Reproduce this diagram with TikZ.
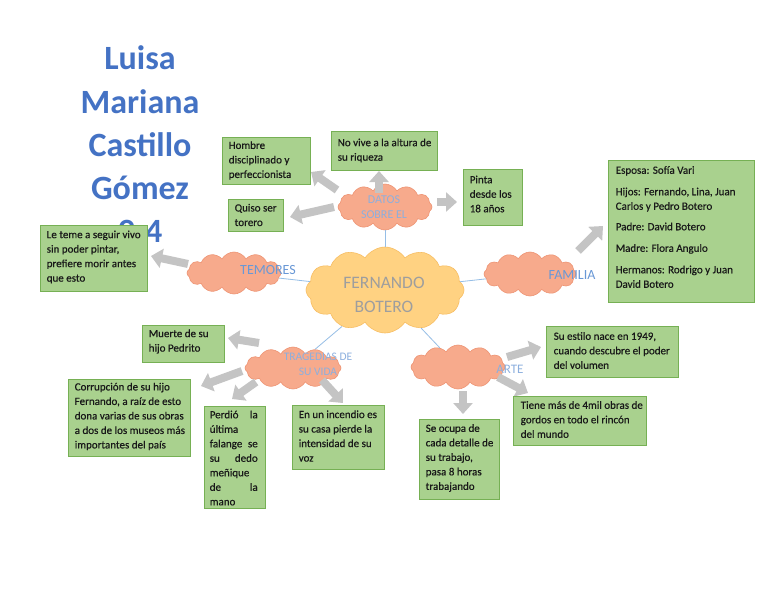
\documentclass[tikz,border=0pt]{standalone}
\usepackage{fontspec}
\setmainfont{Carlito}
\newfontfamily\boxfont{Carlito}[FakeBold=0.5]
\usetikzlibrary{shapes.symbols,arrows.meta,fit,calc}
\definecolor{titleblue}{RGB}{68,114,196}
\definecolor{gfill}{RGB}{169,209,142}
\definecolor{gdraw}{RGB}{118,176,84}
\definecolor{salmon}{RGB}{247,170,140}
\definecolor{salmonB}{RGB}{238,148,116}
\definecolor{gold}{RGB}{255,210,130}
\definecolor{goldB}{RGB}{247,190,100}
\definecolor{cloudtxt}{RGB}{105,152,214}
\definecolor{datostxt}{RGB}{140,175,222}
\definecolor{centertxt}{RGB}{158,158,158}
\definecolor{connc}{RGB}{150,190,230}
\definecolor{arrowgray}{RGB}{196,196,196}
\begin{document}
\begin{tikzpicture}[x=1pt,y=-1pt,
  titlesty/.style={font=\fontsize{34}{43}\selectfont\bfseries, text=titleblue, inner sep=0pt, anchor=base},
  gboxsty/.style={draw=gdraw, fill=gfill, line width=0.9pt, inner sep=0pt},
  txt/.style={font=\boxfont\fontsize{11}{14.5}\selectfont, text=black!90, align=left, inner sep=0pt, anchor=west},
  salcloud/.style={cloud, cloud puffs=12, cloud puff arc=120, fill=salmon, draw=salmonB, line width=0.6pt, inner sep=0pt},
  goldcloud/.style={cloud, cloud puffs=12, cloud puff arc=115, fill=gold, draw=goldB, line width=0.6pt, inner sep=0pt},
  ctxt/.style={text=cloudtxt, align=center, inner sep=0pt},
  connsty/.style={draw=connc, line width=0.8pt},
  barrow/.style={draw=arrowgray, line width=8pt, -{Triangle[length=11pt,width=19pt]}}
]
\useasboundingbox[fill=white] (0,0) rectangle (768,594);

% title
\node[titlesty] (t1) at (140,70) {Luisa};
\node[titlesty] (t2) at (140,113) {Mariana};
\node[titlesty] (t3) at (140,156) {Castillo};
\node[titlesty] (t4) at (140,199) {Gómez};
\node[titlesty] (t5) at (140,242) {9-4};

% clouds
\node[goldcloud, minimum width=158pt, minimum height=86pt] (center) at (385,290) {};
\node[salcloud, minimum width=94pt, minimum height=46pt] (datos) at (385,207) {};
\node[salcloud, minimum width=94pt, minimum height=42pt] (temores) at (234,273) {};
\node[salcloud, minimum width=92pt, minimum height=44pt] (familia) at (530,274) {};
\node[salcloud, minimum width=96pt, minimum height=42pt] (tragedias) at (293,368) {};
\node[salcloud, minimum width=94pt, minimum height=44pt] (arte) at (458,367) {};

% connectors
\draw[connsty] (datos) -- (center);
\draw[connsty] (temores) -- (center);
\draw[connsty] (familia) -- (center);
\draw[connsty] (tragedias) -- (center);
\draw[connsty] (arte) -- (center);

% cloud texts
\node[align=center, inner sep=0pt, text=centertxt, font=\fontsize{17.5}{24}\selectfont] (centerTxt) at (384,295) {FERNANDO\\BOTERO};
\node[ctxt, text=datostxt, font=\fontsize{12}{15}\selectfont] (datosTxt) at (384,207) {DATOS\\SOBRE EL};
\node[ctxt, font=\fontsize{14}{16}\selectfont] (temoresTxt) at (268,270) {TEMORES};
\node[ctxt, font=\fontsize{14}{16}\selectfont] (familiaTxt) at (572,275) {FAMILIA};
\node[ctxt, text=datostxt, font=\fontsize{11.5}{15}\selectfont] (tragediasTxt) at (318,364) {TRAGEDIAS DE\\SU VIDA};
\node[ctxt, text=datostxt, font=\fontsize{13}{15}\selectfont] (arteTxt) at (510,369) {ARTE};

% block arrows
\coordinate (a1s) at (337,190); \coordinate (a1e) at (311,172);
\coordinate (a2s) at (379,193); \coordinate (a2e) at (379,171);
\coordinate (a3s) at (334,207); \coordinate (a3e) at (290,217);
\coordinate (a4s) at (437,202); \coordinate (a4e) at (457,202);
\coordinate (a5s) at (188,264); \coordinate (a5e) at (151,256);
\coordinate (a6s) at (578,251); \coordinate (a6e) at (603,226);
\coordinate (a7s) at (259,343); \coordinate (a7e) at (228,338);
\coordinate (a8s) at (242,371); \coordinate (a8e) at (201,386);
\coordinate (a9s) at (256,382); \coordinate (a9e) at (232,399);
\coordinate (a10s) at (322,380); \coordinate (a10e) at (343,403);
\coordinate (a11s) at (507,357); \coordinate (a11e) at (541,347);
\coordinate (a12s) at (498,377); \coordinate (a12e) at (528,393);
\coordinate (a13s) at (463,391); \coordinate (a13e) at (463,414);
\foreach \i in {1,...,13} {\draw[barrow] (a\i s) -- (a\i e);}

% green boxes
\node[gboxsty, fit={(222,137) (310,184)}] (hombre) {};
\node[txt] (hombreTxt) at ($(hombre.west)+(7,0)$) {Hombre\\disciplinado y\\perfeccionista};

\node[gboxsty, fit={(331,131) (437,170)}] (novive) {};
\node[txt] (noviveTxt) at ($(novive.west)+(7,0)$) {No vive a la altura de\\su riqueza};

\node[gboxsty, fit={(228,199) (283,231)}] (quiso) {};
\node[txt] (quisoTxt) at ($(quiso.west)+(7,0)$) {Quiso ser\\torero};

\node[gboxsty, fit={(463,169) (522,225)}] (pinta) {};
\node[txt] (pintaTxt) at ($(pinta.west)+(7,-3)$) {Pinta\\desde los\\18 años};

\node[gboxsty, fit={(608,160) (754,302)}] (esposa) {};
\node[txt] (esposaTxt) at ($(esposa.west)+(8,-4)$) {Esposa: Sofía Vari\\[7pt]Hijos: Fernando, Lina, Juan\\Carlos y Pedro Botero\\[6pt]Padre: David Botero\\[7pt]Madre: Flora Angulo\\[7pt]Hermanos: Rodrigo y Juan\\David Botero};

\node[gboxsty, fit={(40,225) (147,291)}] (leteme) {};
\node[txt] (letemeTxt) at ($(leteme.west)+(7,-1)$) {Le teme a seguir vivo\\sin poder pintar,\\prefiere morir antes\\que esto};

\node[gboxsty, fit={(142,325) (224,362)}] (muerte) {};
\node[txt] (muerteTxt) at ($(muerte.west)+(7,-2)$) {Muerte de su\\hijo Pedrito};

\node[gboxsty, fit={(68,379) (190,456)}] (corrupcion) {};
\node[txt] (corrupcionTxt) at ($(corrupcion.west)+(7,-1)$) {Corrupción de su hijo\\Fernando, a raíz de esto\\dona varias de sus obras\\a dos de los museos más\\importantes del país};

\node[gboxsty, fit={(204,406) (265,508)}] (perdio) {};
\node[txt, text width=48pt] (perdioTxt) at ($(perdio.west)+(6,1)$) {Perdió\hfill la\\última\\falange\hfill se\\su\hfill dedo\\meñique\\de\hfill la\\mano};

\node[gboxsty, fit={(292,405) (384,469)}] (incendio) {};
\node[txt] (incendioTxt) at ($(incendio.west)+(7,-1)$) {En un incendio es\\su casa pierde la\\intensidad de su\\voz};

\node[gboxsty, fit={(546,326) (678,377)}] (estilo) {};
\node[txt] (estiloTxt) at ($(estilo.west)+(8,-1)$) {Su estilo nace en 1949,\\cuando descubre el poder\\del volumen};

\node[gboxsty, fit={(513,396) (646,445)}] (tiene) {};
\node[txt] (tieneTxt) at ($(tiene.west)+(8,-1)$) {Tiene más de 4mil obras de\\gordos en todo el rincón\\del mundo};

\node[gboxsty, fit={(419,419) (499,499)}] (seocupa) {};
\node[txt] (seocupaTxt) at ($(seocupa.west)+(7,-1)$) {Se ocupa de\\cada detalle de\\su trabajo,\\pasa 8 horas\\trabajando};

\end{tikzpicture}
\end{document}
